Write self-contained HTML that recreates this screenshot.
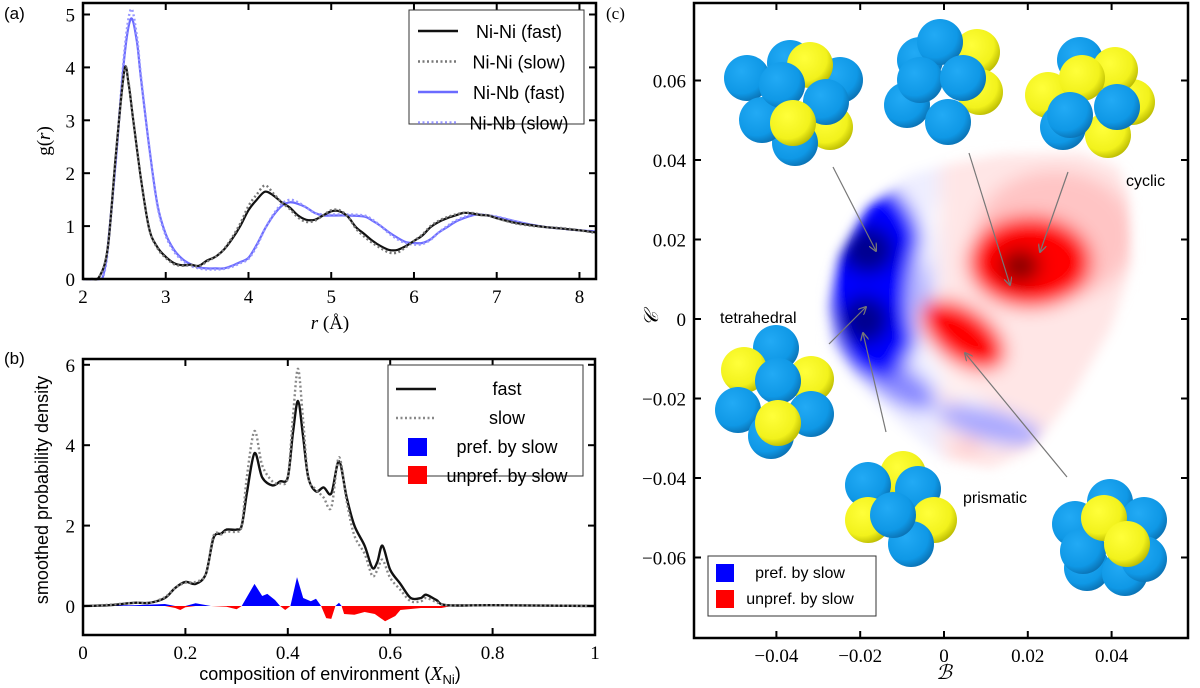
<!DOCTYPE html>
<html><head><meta charset="utf-8"><style>
html,body{margin:0;padding:0;background:#fff;}
svg{display:block;}
.serif{font-family:"Liberation Serif",serif;}
.sans{font-family:"Liberation Sans",sans-serif;}
</style></head><body>
<svg id="fig" width="1200" height="688" viewBox="0 0 1200 688" xmlns="http://www.w3.org/2000/svg">
<defs>
<radialGradient id="gb" cx="0.38" cy="0.35" r="0.7"><stop offset="0" stop-color="#22aaf5"/><stop offset="0.7" stop-color="#0f98e6"/><stop offset="1" stop-color="#0a6fb0"/></radialGradient>
<radialGradient id="gy" cx="0.38" cy="0.35" r="0.7"><stop offset="0" stop-color="#ffff3a"/><stop offset="0.7" stop-color="#f2f21c"/><stop offset="1" stop-color="#b8b800"/></radialGradient>
<filter id="blur" x="-50%" y="-50%" width="200%" height="200%"><feGaussianBlur stdDeviation="9"/></filter>
<filter id="blur2" x="-50%" y="-50%" width="200%" height="200%"><feGaussianBlur stdDeviation="6"/></filter>
<mask id="blobmask"><path filter="url(#blur2)" fill="#fff" d="M826,308 L838,256 L868,207 L907,176 L945,165 L1003,154 L1079,152 L1118,167 L1131,198 L1133,264 L1110,330 L1072,396 L1033,449 L991,469 L945,460 L899,423 L853,379 L830,344 Z"/></mask>
<marker id="arr" viewBox="0 0 10 10" refX="9" refY="5" markerWidth="7" markerHeight="7" orient="auto"><path d="M0,0 L10,5 L0,10" fill="none" stroke="#777" stroke-width="1.5"/></marker>
</defs>
<g id="pa"></g>
<g id="pb"></g>
<g id="pc">
 <g mask="url(#blobmask)">
  <g filter="url(#blur)">
   <rect x="940" y="140" width="200" height="340" fill="#ffe6e6"/>
   <rect x="815" y="140" width="125" height="340" fill="#eeeeff"/>
   <ellipse cx="990" cy="425" rx="55" ry="16" transform="rotate(15 990 425)" fill="#a8a8ff"/>
   <ellipse cx="900" cy="385" rx="40" ry="18" transform="rotate(30 900 385)" fill="#8888ff"/>
   <ellipse cx="1055" cy="235" rx="80" ry="65" fill="#ffc4c4"/>
   <ellipse cx="875" cy="282" rx="52" ry="98" fill="#0000ff"/>
   <ellipse cx="868" cy="250" rx="26" ry="24" fill="#000090"/>
   <ellipse cx="865" cy="320" rx="24" ry="24" fill="#000090"/>
   <ellipse cx="1030" cy="262" rx="62" ry="46" fill="#ff0000"/>
   <ellipse cx="1020" cy="266" rx="20" ry="17" fill="#8a0000"/>
   <ellipse cx="963" cy="335" rx="48" ry="27" transform="rotate(35 963 335)" fill="#ff0000"/>
   <ellipse cx="968" cy="447" rx="14" ry="9" fill="#ffcccc"/>
   <path d="M940,205 Q905,280 918,330 Q935,380 985,405" stroke="#fff" stroke-width="8" fill="none"/>
  </g>
 </g>
</g>
</svg>
<script>
// ---------- Panel (a) data ----------
const rNiNi=[2.0,2.1,2.2,2.3,2.4,2.5,2.55,2.6,2.7,2.8,2.9,3.0,3.1,3.2,3.3,3.4,3.5,3.6,3.7,3.8,3.9,4.0,4.1,4.2,4.3,4.4,4.5,4.6,4.7,4.8,4.9,5.0,5.1,5.2,5.3,5.4,5.5,5.6,5.7,5.8,5.9,6.0,6.1,6.2,6.3,6.4,6.5,6.6,6.7,6.8,6.9,7.0,7.2,7.4,7.6,7.8,8.0,8.2];
const gNiNiFast=[0,0,0.05,0.6,2.4,3.95,3.7,3.1,1.9,0.95,0.6,0.42,0.3,0.26,0.27,0.25,0.35,0.42,0.55,0.75,1.0,1.3,1.5,1.65,1.58,1.45,1.35,1.2,1.12,1.12,1.2,1.28,1.28,1.18,0.98,0.85,0.72,0.62,0.55,0.55,0.62,0.72,0.82,0.98,1.08,1.15,1.2,1.25,1.24,1.21,1.2,1.15,1.07,1.02,0.98,0.95,0.92,0.88];
const gNiNiSlow=[0,0,0.05,0.6,2.4,3.93,3.72,3.1,1.9,0.95,0.58,0.4,0.28,0.25,0.26,0.24,0.33,0.42,0.56,0.78,1.05,1.38,1.6,1.77,1.62,1.45,1.32,1.16,1.08,1.1,1.2,1.3,1.3,1.18,0.95,0.8,0.68,0.58,0.5,0.5,0.6,0.72,0.84,1.0,1.1,1.17,1.22,1.25,1.25,1.22,1.2,1.15,1.06,1.01,0.98,0.96,0.92,0.87];
const rNiNb=[2.0,2.2,2.25,2.3,2.4,2.5,2.58,2.65,2.7,2.8,2.9,3.0,3.1,3.2,3.3,3.4,3.5,3.6,3.7,3.8,3.9,4.0,4.1,4.2,4.3,4.4,4.5,4.6,4.7,4.8,4.9,5.0,5.2,5.4,5.5,5.6,5.7,5.8,5.9,6.0,6.1,6.2,6.3,6.4,6.5,6.6,6.7,6.8,7.0,7.2,7.4,7.6,7.8,8.0,8.2];
const gNiNbFast=[0,0,0.1,0.6,2.3,4.2,4.92,4.5,3.8,2.5,1.4,0.85,0.55,0.38,0.28,0.22,0.2,0.2,0.2,0.25,0.32,0.4,0.65,0.95,1.2,1.38,1.45,1.42,1.35,1.25,1.2,1.2,1.2,1.18,1.1,1.0,0.88,0.78,0.7,0.68,0.68,0.75,0.88,0.98,1.08,1.15,1.2,1.22,1.17,1.1,1.03,0.98,0.95,0.92,0.9];
const gNiNbSlow=[0,0,0.08,0.55,2.3,4.3,5.1,4.6,3.85,2.5,1.38,0.82,0.52,0.35,0.25,0.2,0.18,0.18,0.19,0.23,0.3,0.38,0.62,0.95,1.22,1.42,1.5,1.45,1.35,1.25,1.22,1.22,1.22,1.2,1.12,1.0,0.86,0.75,0.68,0.65,0.66,0.74,0.88,1.0,1.1,1.17,1.22,1.22,1.18,1.1,1.03,0.98,0.95,0.92,0.9];
const aXTicks=[2,3,4,5,6,7,8];
const aYTicks=[0,1,2,3,4,5];
// ---------- Panel (b) data ----------
const xComp=[0,0.05,0.1,0.13,0.16,0.18,0.2,0.22,0.24,0.255,0.27,0.28,0.3,0.31,0.32,0.335,0.35,0.37,0.385,0.4,0.41,0.42,0.43,0.44,0.455,0.47,0.485,0.5,0.515,0.53,0.55,0.565,0.575,0.585,0.6,0.62,0.64,0.66,0.67,0.69,0.71,0.8,1.0];
const densFast=[0,0.02,0.08,0.08,0.2,0.45,0.6,0.55,0.8,1.7,1.8,1.9,1.9,2.0,2.8,3.8,3.2,3.0,3.1,3.2,4.3,5.1,4.2,3.2,2.85,2.95,2.8,3.6,2.7,2.0,1.5,0.95,1.1,1.5,0.9,0.55,0.2,0.2,0.28,0.15,0.02,0.02,0];
const densSlow=[0,0.03,0.08,0.08,0.22,0.45,0.58,0.6,0.8,1.75,1.78,1.85,1.85,2.0,3.2,4.35,3.5,3.1,3.05,3.2,4.7,5.9,4.6,3.2,2.9,2.7,2.45,3.7,2.6,1.75,1.3,0.75,0.9,1.15,0.7,0.4,0.12,0.12,0.2,0.1,0.02,0.02,0];
const xDiff=[0,0.1,0.16,0.18,0.19,0.2,0.22,0.25,0.28,0.3,0.31,0.335,0.35,0.36,0.375,0.385,0.395,0.405,0.418,0.43,0.445,0.455,0.465,0.475,0.485,0.493,0.5,0.505,0.51,0.53,0.55,0.57,0.59,0.61,0.62,0.66,0.7,0.72,1.0];
const dDiff=[0,0.02,0.05,-0.05,-0.1,-0.03,0.07,0,-0.02,-0.08,0,0.55,0.25,0.3,0.15,0,-0.1,0,0.72,0.2,0.12,0.18,0,-0.3,-0.32,0,0.08,0,-0.2,-0.22,-0.15,-0.2,-0.38,-0.25,-0.1,-0.05,-0.05,0,0];
const bXTicks=[0,0.2,0.4,0.6,0.8,1];
const bYTicks=[0,2,4,6];
// ---------- Panel (c) ticks ----------
const cXTicks=[-0.04,-0.02,0,0.02,0.04];
const cYTicks=[0.06,0.04,0.02,0,-0.02,-0.04,-0.06];

const NS="http://www.w3.org/2000/svg";
function mk(parent,tag,attrs,text){const e=document.createElementNS(NS,tag);for(const k in attrs)e.setAttribute(k,attrs[k]);if(text!==undefined)e.textContent=text;parent.appendChild(e);return e;}
function fmt(v){if(v===0)return "0";const s=Math.abs(v).toFixed(2);return (v<0?"\u2212":"")+s;}

function frame(g,L,T,R,B){const f=mk(g,'rect',{x:L,y:T,width:R-L,height:B-T,fill:'none',stroke:'#000','stroke-width':2.5});

}
function ticks(g,xs,ys,sx,sy,L,T,R,B,lblX,lblY){
 xs.forEach(v=>{const x=sx(v);
  mk(g,'line',{x1:x,y1:B,x2:x,y2:B-7,stroke:'#000','stroke-width':2});
  mk(g,'line',{x1:x,y1:T,x2:x,y2:T+7,stroke:'#000','stroke-width':2});
  const t=mk(g,'text',{x:x,y:B+24,'text-anchor':'middle','font-size':19,class:'serif'},lblX(v));
  
  });
 ys.forEach(v=>{const y=sy(v);
  mk(g,'line',{x1:L,y1:y,x2:L+7,y2:y,stroke:'#000','stroke-width':2});
  mk(g,'line',{x1:R,y1:y,x2:R-7,y2:y,stroke:'#000','stroke-width':2});
  const t=mk(g,'text',{x:L-8,y:y+7,'text-anchor':'end','font-size':19,class:'serif'},lblY(v));
  
  });
}
function smoothPath(P){
 let d="M"+P[0][0].toFixed(1)+","+P[0][1].toFixed(1);
 for(let i=0;i<P.length-1;i++){
  const p0=P[Math.max(0,i-1)],p1=P[i],p2=P[i+1],p3=P[Math.min(P.length-1,i+2)];
  const t=0.16;
  const c1=[p1[0]+(p2[0]-p0[0])*t,p1[1]+(p2[1]-p0[1])*t];
  const c2=[p2[0]-(p3[0]-p1[0])*t,p2[1]-(p3[1]-p1[1])*t];
  d+=" C"+c1[0].toFixed(1)+","+c1[1].toFixed(1)+" "+c2[0].toFixed(1)+","+c2[1].toFixed(1)+" "+p2[0].toFixed(1)+","+p2[1].toFixed(1);
 }
 return d;
}
function line(g,xs,ys,sx,sy,color,dash,w,name){
 const P=xs.map((x,i)=>[sx(x),sy(ys[i])]);
 const p=mk(g,'path',{d:smoothPath(P),fill:'none',stroke:color,'stroke-width':w,'stroke-dasharray':dash||'none','stroke-linejoin':'round'});
 
 
}
function lbl(g,x,y,size,cls,html,name,extra){const t=mk(g,'text',Object.assign({x:x,y:y,'font-size':size,class:cls},extra||{}));t.innerHTML=html;
 
 
 return t;}

// ===== Panel A =====
(function(){
 const g=document.getElementById('pa');
 const L=83,R=596,T=3,B=279;
 const sx=v=>L+(v-2)/(8.2-2)*(R-L);
 const sy=v=>B-v*52.9;
 line(g,rNiNb,gNiNbFast,sx,sy,'#6b6bff','',2.2,'ni-nb-fast-line');
 line(g,rNiNb,gNiNbSlow,sx,sy,'#9999ff','2,2.5',2.4,'ni-nb-slow-line');
 line(g,rNiNi,gNiNiFast,sx,sy,'#111','',2.2,'ni-ni-fast-line');
 line(g,rNiNi,gNiNiSlow,sx,sy,'#777','2,2.5',2.4,'ni-ni-slow-line');
 frame(g,L,T,R,B);
 ticks(g,aXTicks,aYTicks,sx,sy,L,T,R,B,v=>String(v),v=>String(v));
 lbl(g,4,19,17,'sans','(a)','panel-a-label');
 lbl(g,330,329,19,'serif','<tspan font-style="italic">r</tspan> (Å)','x-axis-title',{'text-anchor':'middle'});
 lbl(g,0,0,19,'serif','g(<tspan font-style="italic">r</tspan>)','y-axis-title',{'text-anchor':'middle',transform:'translate(50,141) rotate(-90)'});
 const lg=mk(g,'g',{});
 
 
 mk(lg,'rect',{x:409,y:10,width:175,height:114,fill:'#fff',stroke:'#333','stroke-width':1});
 const items=[['Ni-Ni (fast)','#111',''],['Ni-Ni (slow)','#777','2,2.5'],['Ni-Nb (fast)','#6b6bff',''],['Ni-Nb (slow)','#9999ff','2,2.5']];
 items.forEach((it,i)=>{const y=31+i*30.5;
  mk(lg,'line',{x1:418,y1:y,x2:458,y2:y,stroke:it[1],'stroke-width':2.4,'stroke-dasharray':it[2]||'none'});
  lbl(lg,519,y+7,18,'sans',it[0],'legend-entry',{'text-anchor':'middle'});});
})();

// ===== Panel B =====
(function(){
 const g=document.getElementById('pb');
 const L=83,R=595,T=359,B=635;
 const sx=v=>L+v*(R-L);
 const sy=v=>606-v*40.2;
 const pos=xDiff.map((x,i)=>sx(x).toFixed(1)+","+sy(Math.max(0,dDiff[i])).toFixed(1));
 const neg=xDiff.map((x,i)=>sx(x).toFixed(1)+","+sy(Math.min(0,dDiff[i])).toFixed(1));
 const p1=mk(g,'polygon',{points:pos.join(" ")+" "+sx(1)+","+sy(0)+" "+sx(0)+","+sy(0),fill:'#0000ff'});
 
 
 const p2=mk(g,'polygon',{points:neg.join(" ")+" "+sx(1)+","+sy(0)+" "+sx(0)+","+sy(0),fill:'#ff0000'});
 
 
 line(g,xComp,densFast,sx,sy,'#111','',2.4,'fast-line');
 line(g,xComp,densSlow,sx,sy,'#888','2,2.5',2.4,'slow-line');
 frame(g,L,T,R,B);
 ticks(g,bXTicks,bYTicks,sx,sy,L,T,R,B,v=>String(v),v=>String(v));
 lbl(g,4,364,17,'sans','(b)','panel-b-label');
 lbl(g,330,680,18,'sans','composition of environment (<tspan class="serif" font-style="italic" font-size="20">X</tspan><tspan font-size="13" dy="4">Ni</tspan><tspan dy="-4">)</tspan>','x-axis-title',{'text-anchor':'middle'});
 lbl(g,0,0,18,'sans','smoothed probability density','y-axis-title',{'text-anchor':'middle',transform:'translate(48,490) rotate(-90)'});
 const lg=mk(g,'g',{});
 
 
 mk(lg,'rect',{x:388,y:365,width:195,height:111,fill:'#fff',stroke:'#333','stroke-width':1});
 mk(lg,'line',{x1:396,y1:389,x2:436,y2:389,stroke:'#111','stroke-width':2.4});
 mk(lg,'line',{x1:396,y1:418,x2:436,y2:418,stroke:'#888','stroke-width':2.4,'stroke-dasharray':'2,2.5'});
 mk(lg,'rect',{x:408,y:438,width:19,height:18,fill:'#0000ff'});
 mk(lg,'rect',{x:408,y:466,width:19,height:18,fill:'#ff0000'});
 lbl(lg,507,395,18,'sans','fast','legend-entry',{'text-anchor':'middle'});
 lbl(lg,507,424,18,'sans','slow','legend-entry',{'text-anchor':'middle'});
 lbl(lg,507,453,18,'sans','pref.  by slow','legend-entry',{'text-anchor':'middle'});
 lbl(lg,507,482,18,'sans','unpref.  by slow','legend-entry',{'text-anchor':'middle'});
})();

// ===== Panel C =====
(function(){
 const g=document.getElementById('pc');
 const L=694,R=1188,T=3,B=638;
 const sx=v=>944+v/0.02*83.8;
 const sy=v=>319-v/0.02*79.5;
 const arrows=[[833,167,876,251],[969,153,1010,285],[1068,172,1040,252],[829,344,866,307],[886,432,863,333],[1067,477,965,353]];
 arrows.forEach(a=>{const l=mk(g,'line',{x1:a[0],y1:a[1],x2:a[2],y2:a[3],stroke:'#777','stroke-width':1.2,'marker-end':'url(#arr)'});
  
  });
 const clusters=[
  [[747,78,'b'],[790,63,'b'],[840,80,'b'],[830,127,'y'],[795,143,'b'],[762,120,'b'],[810,65,'y'],[782,85,'b'],[826,102,'b'],[793,123,'y']],
  [[920,60,'b'],[977,52,'y'],[980,92,'y'],[907,105,'b'],[948,122,'b'],[940,42,'b'],[920,80,'b'],[963,78,'b']],
  [[1080,60,'b'],[1048,95,'y'],[1132,102,'y'],[1108,135,'y'],[1063,127,'b'],[1115,70,'y'],[1082,78,'y'],[1070,115,'b'],[1117,107,'b']],
  [[776,348,'b'],[744,370,'y'],[811,379,'y'],[738,410,'b'],[811,414,'b'],[771,436,'b'],[778,381,'b'],[778,423,'y']],
  [[903,474,'y'],[868,485,'b'],[918,489,'b'],[868,520,'y'],[934,520,'y'],[911,544,'b'],[893,515,'b']],
  [[1110,502,'b'],[1075,524,'b'],[1144,520,'b'],[1087,568,'b'],[1125,573,'b'],[1144,559,'b'],[1083,551,'b'],[1104,518,'y'],[1127,544,'y']]
 ];
 clusters.forEach(cl=>{const cg=mk(g,'g',{});
  
  
  cl.forEach(s=>mk(cg,'circle',{cx:s[0],cy:s[1],r:23,fill:s[2]==='b'?'url(#gb)':'url(#gy)'}));});
 lbl(g,720,323,16,'sans','tetrahedral','label-tetrahedral');
 lbl(g,1126,186,16,'sans','cyclic','label-cyclic');
 lbl(g,963,503,16,'sans','prismatic','label-prismatic');
 frame(g,L,T,R,B);
 ticks(g,cXTicks,cYTicks,sx,sy,L,T,R,B,fmt,fmt);
 lbl(g,606,19,17,'serif','(c)','panel-c-label');
 lbl(g,944,679,20,'serif','<tspan font-style="italic">ℬ</tspan>','x-axis-title',{'text-anchor':'middle'});
 lbl(g,0,0,20,'serif','<tspan font-style="italic">𝒞</tspan>','y-axis-title',{'text-anchor':'middle',transform:'translate(658,319) rotate(-90)'});
 const lg=mk(g,'g',{});
 
 
 mk(lg,'rect',{x:708,y:556,width:168,height:60,fill:'#fff',stroke:'#333','stroke-width':1});
 mk(lg,'rect',{x:716,y:564,width:18,height:18,fill:'#0000ff'});
 mk(lg,'rect',{x:716,y:590,width:18,height:18,fill:'#ff0000'});
 lbl(lg,800,578,16,'sans','pref.  by slow','legend-entry',{'text-anchor':'middle'});
 lbl(lg,800,604,16,'sans','unpref.  by slow','legend-entry',{'text-anchor':'middle'});
})();
</script>
</body></html>
